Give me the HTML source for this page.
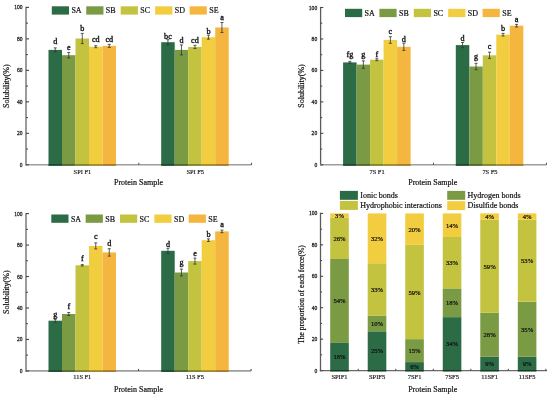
<!DOCTYPE html>
<html><head><meta charset="utf-8"><title>Solubility charts</title>
<style>
html,body{margin:0;padding:0;background:#fff;}
body{width:550px;height:396px;overflow:hidden;}
svg{display:block;font-family:"Liberation Serif", serif;will-change:transform;}
text{stroke:#111;stroke-width:0.2px;}
.tk{stroke:#1a1a1a;stroke-width:0.22px;fill:#1a1a1a;}
.pc{stroke:#111;stroke-width:0.22px;}
.lt{stroke:#111;stroke-width:0.35px;}
.ct{stroke:#1a1a1a;stroke-width:0.18px;fill:#1a1a1a;}
</style></head>
<body>
<svg width="550" height="396" viewBox="0 0 550 396">
<rect x="0" y="0" width="550" height="396" fill="#ffffff"/>
<line x1="26.00" y1="6.80" x2="26.00" y2="165.60" stroke="#9b9b9b" stroke-width="2.0"/>
<line x1="25.00" y1="164.80" x2="251.60" y2="164.80" stroke="#9e9e9e" stroke-width="1.6"/>
<rect x="48.50" y="49.90" width="13.50" height="115.70" fill="#2b6b45"/>
<rect x="48.50" y="164.30" width="13.50" height="1.30" fill="#173a25"/>
<rect x="62.00" y="55.20" width="13.50" height="110.40" fill="#7a9a44"/>
<rect x="62.00" y="164.30" width="13.50" height="1.30" fill="#435425"/>
<rect x="75.50" y="38.50" width="13.50" height="127.10" fill="#c3c340"/>
<rect x="75.50" y="164.30" width="13.50" height="1.30" fill="#6b6b23"/>
<rect x="89.00" y="46.70" width="13.50" height="118.90" fill="#f2cd3f"/>
<rect x="89.00" y="164.30" width="13.50" height="1.30" fill="#857022"/>
<rect x="102.50" y="45.90" width="13.50" height="119.70" fill="#f4b63e"/>
<rect x="102.50" y="164.30" width="13.50" height="1.30" fill="#866422"/>
<rect x="161.20" y="42.20" width="13.50" height="123.40" fill="#2b6b45"/>
<rect x="161.20" y="164.30" width="13.50" height="1.30" fill="#173a25"/>
<rect x="174.70" y="49.90" width="13.50" height="115.70" fill="#7a9a44"/>
<rect x="174.70" y="164.30" width="13.50" height="1.30" fill="#435425"/>
<rect x="188.20" y="46.90" width="13.50" height="118.70" fill="#c3c340"/>
<rect x="188.20" y="164.30" width="13.50" height="1.30" fill="#6b6b23"/>
<rect x="201.70" y="37.20" width="13.50" height="128.40" fill="#f2cd3f"/>
<rect x="201.70" y="164.30" width="13.50" height="1.30" fill="#857022"/>
<rect x="215.20" y="27.50" width="13.50" height="138.10" fill="#f4b63e"/>
<rect x="215.20" y="164.30" width="13.50" height="1.30" fill="#866422"/>
<line x1="55.25" y1="47.90" x2="55.25" y2="51.90" stroke="#333" stroke-width="0.8"/>
<line x1="53.75" y1="47.90" x2="56.75" y2="47.90" stroke="#333" stroke-width="0.8"/>
<line x1="53.75" y1="51.90" x2="56.75" y2="51.90" stroke="#333" stroke-width="0.8"/>
<text x="0" y="0" font-size="8.2" text-anchor="middle" transform="translate(55.25 44.40) scale(1 1.06)" fill="#111111" class="lt">d</text>
<line x1="68.75" y1="52.50" x2="68.75" y2="57.90" stroke="#333" stroke-width="0.8"/>
<line x1="67.25" y1="52.50" x2="70.25" y2="52.50" stroke="#333" stroke-width="0.8"/>
<line x1="67.25" y1="57.90" x2="70.25" y2="57.90" stroke="#333" stroke-width="0.8"/>
<text x="0" y="0" font-size="8.2" text-anchor="middle" transform="translate(68.75 49.50) scale(1 1.06)" fill="#111111" class="lt">e</text>
<line x1="82.25" y1="33.40" x2="82.25" y2="43.60" stroke="#333" stroke-width="0.8"/>
<line x1="80.75" y1="33.40" x2="83.75" y2="33.40" stroke="#333" stroke-width="0.8"/>
<line x1="80.75" y1="43.60" x2="83.75" y2="43.60" stroke="#333" stroke-width="0.8"/>
<text x="0" y="0" font-size="8.2" text-anchor="middle" transform="translate(82.25 31.20) scale(1 1.06)" fill="#111111" class="lt">b</text>
<line x1="95.75" y1="45.70" x2="95.75" y2="47.70" stroke="#333" stroke-width="0.8"/>
<line x1="94.25" y1="45.70" x2="97.25" y2="45.70" stroke="#333" stroke-width="0.8"/>
<line x1="94.25" y1="47.70" x2="97.25" y2="47.70" stroke="#333" stroke-width="0.8"/>
<text x="0" y="0" font-size="8.2" text-anchor="middle" transform="translate(95.75 42.30) scale(1 1.06)" fill="#111111" class="lt">cd</text>
<line x1="109.25" y1="44.40" x2="109.25" y2="47.40" stroke="#333" stroke-width="0.8"/>
<line x1="107.75" y1="44.40" x2="110.75" y2="44.40" stroke="#333" stroke-width="0.8"/>
<line x1="107.75" y1="47.40" x2="110.75" y2="47.40" stroke="#333" stroke-width="0.8"/>
<text x="0" y="0" font-size="8.2" text-anchor="middle" transform="translate(109.25 42.30) scale(1 1.06)" fill="#111111" class="lt">cd</text>
<line x1="167.95" y1="39.70" x2="167.95" y2="44.70" stroke="#333" stroke-width="0.8"/>
<line x1="166.45" y1="39.70" x2="169.45" y2="39.70" stroke="#333" stroke-width="0.8"/>
<line x1="166.45" y1="44.70" x2="169.45" y2="44.70" stroke="#333" stroke-width="0.8"/>
<text x="0" y="0" font-size="8.2" text-anchor="middle" transform="translate(167.95 38.60) scale(1 1.06)" fill="#111111" class="lt">bc</text>
<line x1="181.45" y1="44.90" x2="181.45" y2="54.90" stroke="#333" stroke-width="0.8"/>
<line x1="179.95" y1="44.90" x2="182.95" y2="44.90" stroke="#333" stroke-width="0.8"/>
<line x1="179.95" y1="54.90" x2="182.95" y2="54.90" stroke="#333" stroke-width="0.8"/>
<text x="0" y="0" font-size="8.2" text-anchor="middle" transform="translate(181.45 42.70) scale(1 1.06)" fill="#111111" class="lt">d</text>
<line x1="194.95" y1="45.30" x2="194.95" y2="48.50" stroke="#333" stroke-width="0.8"/>
<line x1="193.45" y1="45.30" x2="196.45" y2="45.30" stroke="#333" stroke-width="0.8"/>
<line x1="193.45" y1="48.50" x2="196.45" y2="48.50" stroke="#333" stroke-width="0.8"/>
<text x="0" y="0" font-size="8.2" text-anchor="middle" transform="translate(194.95 42.70) scale(1 1.06)" fill="#111111" class="lt">cd</text>
<line x1="208.45" y1="35.20" x2="208.45" y2="39.20" stroke="#333" stroke-width="0.8"/>
<line x1="206.95" y1="35.20" x2="209.95" y2="35.20" stroke="#333" stroke-width="0.8"/>
<line x1="206.95" y1="39.20" x2="209.95" y2="39.20" stroke="#333" stroke-width="0.8"/>
<text x="0" y="0" font-size="8.2" text-anchor="middle" transform="translate(208.45 33.90) scale(1 1.06)" fill="#111111" class="lt">b</text>
<line x1="221.95" y1="22.50" x2="221.95" y2="32.50" stroke="#333" stroke-width="0.8"/>
<line x1="220.45" y1="22.50" x2="223.45" y2="22.50" stroke="#333" stroke-width="0.8"/>
<line x1="220.45" y1="32.50" x2="223.45" y2="32.50" stroke="#333" stroke-width="0.8"/>
<text x="0" y="0" font-size="8.2" text-anchor="middle" transform="translate(221.95 19.90) scale(1 1.06)" fill="#111111" class="lt">a</text>
<line x1="26.00" y1="164.80" x2="29.00" y2="164.80" stroke="#444" stroke-width="1.1"/>
<text x="0" y="0" font-size="5.6" text-anchor="end" transform="translate(22.60 166.80) scale(1 1.25)" fill="#111111" class="tk">0</text>
<line x1="26.00" y1="149.06" x2="28.00" y2="149.06" stroke="#444" stroke-width="1.0"/>
<line x1="26.00" y1="133.32" x2="29.00" y2="133.32" stroke="#444" stroke-width="1.1"/>
<text x="0" y="0" font-size="5.6" text-anchor="end" transform="translate(22.60 135.32) scale(1 1.25)" fill="#111111" class="tk">20</text>
<line x1="26.00" y1="117.58" x2="28.00" y2="117.58" stroke="#444" stroke-width="1.0"/>
<line x1="26.00" y1="101.84" x2="29.00" y2="101.84" stroke="#444" stroke-width="1.1"/>
<text x="0" y="0" font-size="5.6" text-anchor="end" transform="translate(22.60 103.84) scale(1 1.25)" fill="#111111" class="tk">40</text>
<line x1="26.00" y1="86.10" x2="28.00" y2="86.10" stroke="#444" stroke-width="1.0"/>
<line x1="26.00" y1="70.36" x2="29.00" y2="70.36" stroke="#444" stroke-width="1.1"/>
<text x="0" y="0" font-size="5.6" text-anchor="end" transform="translate(22.60 72.36) scale(1 1.25)" fill="#111111" class="tk">60</text>
<line x1="26.00" y1="54.62" x2="28.00" y2="54.62" stroke="#444" stroke-width="1.0"/>
<line x1="26.00" y1="38.88" x2="29.00" y2="38.88" stroke="#444" stroke-width="1.1"/>
<text x="0" y="0" font-size="5.6" text-anchor="end" transform="translate(22.60 40.88) scale(1 1.25)" fill="#111111" class="tk">80</text>
<line x1="26.00" y1="23.14" x2="28.00" y2="23.14" stroke="#444" stroke-width="1.0"/>
<line x1="26.00" y1="7.40" x2="29.00" y2="7.40" stroke="#444" stroke-width="1.1"/>
<text x="0" y="0" font-size="5.6" text-anchor="end" transform="translate(22.60 9.40) scale(1 1.25)" fill="#111111" class="tk">100</text>
<line x1="138.80" y1="164.80" x2="138.80" y2="162.80" stroke="#444" stroke-width="1.0"/>
<line x1="251.60" y1="164.80" x2="251.60" y2="162.80" stroke="#444" stroke-width="1.0"/>
<text x="0" y="0" font-size="6.4" text-anchor="middle" transform="translate(82.40 173.60) scale(1 1.08)" fill="#111111" class="ct">SPI F1</text>
<text x="0" y="0" font-size="6.4" text-anchor="middle" transform="translate(195.20 173.60) scale(1 1.08)" fill="#111111" class="ct">SPI F5</text>
<text x="138.50" y="185.30" font-size="8" text-anchor="middle" fill="#111111">Protein Sample</text>
<text x="9.40" y="86.20" font-size="8" text-anchor="middle" transform="rotate(-90 9.40 86.20)" fill="#111111">Solubility(%)</text>
<rect x="51.80" y="6.30" width="17.20" height="8.30" fill="#2b6b45"/>
<text x="71.40" y="13.30" font-size="8" text-anchor="start" fill="#111111">SA</text>
<rect x="86.25" y="6.30" width="17.20" height="8.30" fill="#7a9a44"/>
<text x="105.85" y="13.30" font-size="8" text-anchor="start" fill="#111111">SB</text>
<rect x="120.70" y="6.30" width="17.20" height="8.30" fill="#c3c340"/>
<text x="140.30" y="13.30" font-size="8" text-anchor="start" fill="#111111">SC</text>
<rect x="155.15" y="6.30" width="17.20" height="8.30" fill="#f2cd3f"/>
<text x="174.75" y="13.30" font-size="8" text-anchor="start" fill="#111111">SD</text>
<rect x="189.60" y="6.30" width="17.20" height="8.30" fill="#f4b63e"/>
<text x="209.20" y="13.30" font-size="8" text-anchor="start" fill="#111111">SE</text>
<line x1="320.60" y1="6.90" x2="320.60" y2="165.60" stroke="#5c5c5c" stroke-width="1.3"/>
<line x1="319.95" y1="164.80" x2="546.40" y2="164.80" stroke="#9e9e9e" stroke-width="1.6"/>
<rect x="343.10" y="62.40" width="13.50" height="103.20" fill="#2b6b45"/>
<rect x="343.10" y="164.30" width="13.50" height="1.30" fill="#173a25"/>
<rect x="356.60" y="64.60" width="13.50" height="101.00" fill="#7a9a44"/>
<rect x="356.60" y="164.30" width="13.50" height="1.30" fill="#435425"/>
<rect x="370.10" y="59.70" width="13.50" height="105.90" fill="#c3c340"/>
<rect x="370.10" y="164.30" width="13.50" height="1.30" fill="#6b6b23"/>
<rect x="383.60" y="40.00" width="13.50" height="125.60" fill="#f2cd3f"/>
<rect x="383.60" y="164.30" width="13.50" height="1.30" fill="#857022"/>
<rect x="397.10" y="46.80" width="13.50" height="118.80" fill="#f4b63e"/>
<rect x="397.10" y="164.30" width="13.50" height="1.30" fill="#866422"/>
<rect x="455.80" y="45.10" width="13.50" height="120.50" fill="#2b6b45"/>
<rect x="455.80" y="164.30" width="13.50" height="1.30" fill="#173a25"/>
<rect x="469.30" y="66.50" width="13.50" height="99.10" fill="#7a9a44"/>
<rect x="469.30" y="164.30" width="13.50" height="1.30" fill="#435425"/>
<rect x="482.80" y="55.30" width="13.50" height="110.30" fill="#c3c340"/>
<rect x="482.80" y="164.30" width="13.50" height="1.30" fill="#6b6b23"/>
<rect x="496.30" y="34.70" width="13.50" height="130.90" fill="#f2cd3f"/>
<rect x="496.30" y="164.30" width="13.50" height="1.30" fill="#857022"/>
<rect x="509.80" y="25.70" width="13.50" height="139.90" fill="#f4b63e"/>
<rect x="509.80" y="164.30" width="13.50" height="1.30" fill="#866422"/>
<line x1="349.85" y1="61.40" x2="349.85" y2="63.40" stroke="#333" stroke-width="0.8"/>
<line x1="348.35" y1="61.40" x2="351.35" y2="61.40" stroke="#333" stroke-width="0.8"/>
<line x1="348.35" y1="63.40" x2="351.35" y2="63.40" stroke="#333" stroke-width="0.8"/>
<text x="0" y="0" font-size="8.2" text-anchor="middle" transform="translate(349.85 56.70) scale(1 1.06)" fill="#111111" class="lt">fg</text>
<line x1="363.35" y1="60.90" x2="363.35" y2="68.30" stroke="#333" stroke-width="0.8"/>
<line x1="361.85" y1="60.90" x2="364.85" y2="60.90" stroke="#333" stroke-width="0.8"/>
<line x1="361.85" y1="68.30" x2="364.85" y2="68.30" stroke="#333" stroke-width="0.8"/>
<text x="0" y="0" font-size="8.2" text-anchor="middle" transform="translate(363.35 56.70) scale(1 1.06)" fill="#111111" class="lt">g</text>
<line x1="376.85" y1="58.70" x2="376.85" y2="60.70" stroke="#333" stroke-width="0.8"/>
<line x1="375.35" y1="58.70" x2="378.35" y2="58.70" stroke="#333" stroke-width="0.8"/>
<line x1="375.35" y1="60.70" x2="378.35" y2="60.70" stroke="#333" stroke-width="0.8"/>
<text x="0" y="0" font-size="8.2" text-anchor="middle" transform="translate(376.85 57.30) scale(1 1.06)" fill="#111111" class="lt">f</text>
<line x1="390.35" y1="36.70" x2="390.35" y2="43.30" stroke="#333" stroke-width="0.8"/>
<line x1="388.85" y1="36.70" x2="391.85" y2="36.70" stroke="#333" stroke-width="0.8"/>
<line x1="388.85" y1="43.30" x2="391.85" y2="43.30" stroke="#333" stroke-width="0.8"/>
<text x="0" y="0" font-size="8.2" text-anchor="middle" transform="translate(390.35 34.00) scale(1 1.06)" fill="#111111" class="lt">c</text>
<line x1="403.85" y1="43.20" x2="403.85" y2="50.40" stroke="#333" stroke-width="0.8"/>
<line x1="402.35" y1="43.20" x2="405.35" y2="43.20" stroke="#333" stroke-width="0.8"/>
<line x1="402.35" y1="50.40" x2="405.35" y2="50.40" stroke="#333" stroke-width="0.8"/>
<text x="0" y="0" font-size="8.2" text-anchor="middle" transform="translate(403.85 41.80) scale(1 1.06)" fill="#111111" class="lt">d</text>
<line x1="462.55" y1="42.50" x2="462.55" y2="47.70" stroke="#333" stroke-width="0.8"/>
<line x1="461.05" y1="42.50" x2="464.05" y2="42.50" stroke="#333" stroke-width="0.8"/>
<line x1="461.05" y1="47.70" x2="464.05" y2="47.70" stroke="#333" stroke-width="0.8"/>
<text x="0" y="0" font-size="8.2" text-anchor="middle" transform="translate(462.55 40.60) scale(1 1.06)" fill="#111111" class="lt">d</text>
<line x1="476.05" y1="63.30" x2="476.05" y2="69.70" stroke="#333" stroke-width="0.8"/>
<line x1="474.55" y1="63.30" x2="477.55" y2="63.30" stroke="#333" stroke-width="0.8"/>
<line x1="474.55" y1="69.70" x2="477.55" y2="69.70" stroke="#333" stroke-width="0.8"/>
<text x="0" y="0" font-size="8.2" text-anchor="middle" transform="translate(476.05 58.60) scale(1 1.06)" fill="#111111" class="lt">g</text>
<line x1="489.55" y1="52.20" x2="489.55" y2="58.40" stroke="#333" stroke-width="0.8"/>
<line x1="488.05" y1="52.20" x2="491.05" y2="52.20" stroke="#333" stroke-width="0.8"/>
<line x1="488.05" y1="58.40" x2="491.05" y2="58.40" stroke="#333" stroke-width="0.8"/>
<text x="0" y="0" font-size="8.2" text-anchor="middle" transform="translate(489.55 49.40) scale(1 1.06)" fill="#111111" class="lt">c</text>
<line x1="503.05" y1="33.40" x2="503.05" y2="36.00" stroke="#333" stroke-width="0.8"/>
<line x1="501.55" y1="33.40" x2="504.55" y2="33.40" stroke="#333" stroke-width="0.8"/>
<line x1="501.55" y1="36.00" x2="504.55" y2="36.00" stroke="#333" stroke-width="0.8"/>
<text x="0" y="0" font-size="8.2" text-anchor="middle" transform="translate(503.05 31.10) scale(1 1.06)" fill="#111111" class="lt">b</text>
<line x1="516.55" y1="24.40" x2="516.55" y2="27.00" stroke="#333" stroke-width="0.8"/>
<line x1="515.05" y1="24.40" x2="518.05" y2="24.40" stroke="#333" stroke-width="0.8"/>
<line x1="515.05" y1="27.00" x2="518.05" y2="27.00" stroke="#333" stroke-width="0.8"/>
<text x="0" y="0" font-size="8.2" text-anchor="middle" transform="translate(516.55 21.60) scale(1 1.06)" fill="#111111" class="lt">a</text>
<line x1="320.60" y1="164.80" x2="323.25" y2="164.80" stroke="#444" stroke-width="1.1"/>
<text x="0" y="0" font-size="5.6" text-anchor="end" transform="translate(317.20 166.80) scale(1 1.25)" fill="#111111" class="tk">0</text>
<line x1="320.60" y1="149.07" x2="322.25" y2="149.07" stroke="#444" stroke-width="1.0"/>
<line x1="320.60" y1="133.34" x2="323.25" y2="133.34" stroke="#444" stroke-width="1.1"/>
<text x="0" y="0" font-size="5.6" text-anchor="end" transform="translate(317.20 135.34) scale(1 1.25)" fill="#111111" class="tk">20</text>
<line x1="320.60" y1="117.61" x2="322.25" y2="117.61" stroke="#444" stroke-width="1.0"/>
<line x1="320.60" y1="101.88" x2="323.25" y2="101.88" stroke="#444" stroke-width="1.1"/>
<text x="0" y="0" font-size="5.6" text-anchor="end" transform="translate(317.20 103.88) scale(1 1.25)" fill="#111111" class="tk">40</text>
<line x1="320.60" y1="86.15" x2="322.25" y2="86.15" stroke="#444" stroke-width="1.0"/>
<line x1="320.60" y1="70.42" x2="323.25" y2="70.42" stroke="#444" stroke-width="1.1"/>
<text x="0" y="0" font-size="5.6" text-anchor="end" transform="translate(317.20 72.42) scale(1 1.25)" fill="#111111" class="tk">60</text>
<line x1="320.60" y1="54.69" x2="322.25" y2="54.69" stroke="#444" stroke-width="1.0"/>
<line x1="320.60" y1="38.96" x2="323.25" y2="38.96" stroke="#444" stroke-width="1.1"/>
<text x="0" y="0" font-size="5.6" text-anchor="end" transform="translate(317.20 40.96) scale(1 1.25)" fill="#111111" class="tk">80</text>
<line x1="320.60" y1="23.23" x2="322.25" y2="23.23" stroke="#444" stroke-width="1.0"/>
<line x1="320.60" y1="7.50" x2="323.25" y2="7.50" stroke="#444" stroke-width="1.1"/>
<text x="0" y="0" font-size="5.6" text-anchor="end" transform="translate(317.20 9.50) scale(1 1.25)" fill="#111111" class="tk">100</text>
<line x1="433.50" y1="164.80" x2="433.50" y2="162.80" stroke="#444" stroke-width="1.0"/>
<line x1="546.40" y1="164.80" x2="546.40" y2="162.80" stroke="#444" stroke-width="1.0"/>
<text x="0" y="0" font-size="6.4" text-anchor="middle" transform="translate(377.05 173.60) scale(1 1.08)" fill="#111111" class="ct">7S F1</text>
<text x="0" y="0" font-size="6.4" text-anchor="middle" transform="translate(489.95 173.60) scale(1 1.08)" fill="#111111" class="ct">7S F5</text>
<text x="432.80" y="185.30" font-size="8" text-anchor="middle" fill="#111111">Protein Sample</text>
<text x="304.40" y="86.00" font-size="8" text-anchor="middle" transform="rotate(-90 304.40 86.00)" fill="#111111">Solubility(%)</text>
<rect x="345.00" y="8.80" width="17.20" height="8.30" fill="#2b6b45"/>
<text x="364.60" y="15.80" font-size="8" text-anchor="start" fill="#111111">SA</text>
<rect x="379.40" y="8.80" width="17.20" height="8.30" fill="#7a9a44"/>
<text x="399.00" y="15.80" font-size="8" text-anchor="start" fill="#111111">SB</text>
<rect x="413.80" y="8.80" width="17.20" height="8.30" fill="#c3c340"/>
<text x="433.40" y="15.80" font-size="8" text-anchor="start" fill="#111111">SC</text>
<rect x="448.20" y="8.80" width="17.20" height="8.30" fill="#f2cd3f"/>
<text x="467.80" y="15.80" font-size="8" text-anchor="start" fill="#111111">SD</text>
<rect x="482.60" y="8.80" width="17.20" height="8.30" fill="#f4b63e"/>
<text x="502.20" y="15.80" font-size="8" text-anchor="start" fill="#111111">SE</text>
<line x1="26.00" y1="213.00" x2="26.00" y2="371.70" stroke="#9b9b9b" stroke-width="2.0"/>
<line x1="25.00" y1="370.90" x2="251.10" y2="370.90" stroke="#9e9e9e" stroke-width="1.6"/>
<rect x="48.50" y="320.70" width="13.50" height="51.00" fill="#2b6b45"/>
<rect x="48.50" y="370.40" width="13.50" height="1.30" fill="#173a25"/>
<rect x="62.00" y="314.00" width="13.50" height="57.70" fill="#7a9a44"/>
<rect x="62.00" y="370.40" width="13.50" height="1.30" fill="#435425"/>
<rect x="75.50" y="265.30" width="13.50" height="106.40" fill="#c3c340"/>
<rect x="75.50" y="370.40" width="13.50" height="1.30" fill="#6b6b23"/>
<rect x="89.00" y="245.90" width="13.50" height="125.80" fill="#f2cd3f"/>
<rect x="89.00" y="370.40" width="13.50" height="1.30" fill="#857022"/>
<rect x="102.50" y="252.40" width="13.50" height="119.30" fill="#f4b63e"/>
<rect x="102.50" y="370.40" width="13.50" height="1.30" fill="#866422"/>
<rect x="161.20" y="250.80" width="13.50" height="120.90" fill="#2b6b45"/>
<rect x="161.20" y="370.40" width="13.50" height="1.30" fill="#173a25"/>
<rect x="174.70" y="272.50" width="13.50" height="99.20" fill="#7a9a44"/>
<rect x="174.70" y="370.40" width="13.50" height="1.30" fill="#435425"/>
<rect x="188.20" y="261.10" width="13.50" height="110.60" fill="#c3c340"/>
<rect x="188.20" y="370.40" width="13.50" height="1.30" fill="#6b6b23"/>
<rect x="201.70" y="240.20" width="13.50" height="131.50" fill="#f2cd3f"/>
<rect x="201.70" y="370.40" width="13.50" height="1.30" fill="#857022"/>
<rect x="215.20" y="231.40" width="13.50" height="140.30" fill="#f4b63e"/>
<rect x="215.20" y="370.40" width="13.50" height="1.30" fill="#866422"/>
<line x1="55.25" y1="319.20" x2="55.25" y2="322.20" stroke="#333" stroke-width="0.8"/>
<line x1="53.75" y1="319.20" x2="56.75" y2="319.20" stroke="#333" stroke-width="0.8"/>
<line x1="53.75" y1="322.20" x2="56.75" y2="322.20" stroke="#333" stroke-width="0.8"/>
<text x="0" y="0" font-size="8.2" text-anchor="middle" transform="translate(55.25 317.30) scale(1 1.06)" fill="#111111" class="lt">g</text>
<line x1="68.75" y1="312.50" x2="68.75" y2="315.50" stroke="#333" stroke-width="0.8"/>
<line x1="67.25" y1="312.50" x2="70.25" y2="312.50" stroke="#333" stroke-width="0.8"/>
<line x1="67.25" y1="315.50" x2="70.25" y2="315.50" stroke="#333" stroke-width="0.8"/>
<text x="0" y="0" font-size="8.2" text-anchor="middle" transform="translate(68.75 308.60) scale(1 1.06)" fill="#111111" class="lt">f</text>
<line x1="82.25" y1="264.60" x2="82.25" y2="266.00" stroke="#333" stroke-width="0.8"/>
<line x1="80.75" y1="264.60" x2="83.75" y2="264.60" stroke="#333" stroke-width="0.8"/>
<line x1="80.75" y1="266.00" x2="83.75" y2="266.00" stroke="#333" stroke-width="0.8"/>
<text x="0" y="0" font-size="8.2" text-anchor="middle" transform="translate(82.25 261.30) scale(1 1.06)" fill="#111111" class="lt">f</text>
<line x1="95.75" y1="242.90" x2="95.75" y2="248.90" stroke="#333" stroke-width="0.8"/>
<line x1="94.25" y1="242.90" x2="97.25" y2="242.90" stroke="#333" stroke-width="0.8"/>
<line x1="94.25" y1="248.90" x2="97.25" y2="248.90" stroke="#333" stroke-width="0.8"/>
<text x="0" y="0" font-size="8.2" text-anchor="middle" transform="translate(95.75 238.80) scale(1 1.06)" fill="#111111" class="lt">c</text>
<line x1="109.25" y1="248.70" x2="109.25" y2="256.10" stroke="#333" stroke-width="0.8"/>
<line x1="107.75" y1="248.70" x2="110.75" y2="248.70" stroke="#333" stroke-width="0.8"/>
<line x1="107.75" y1="256.10" x2="110.75" y2="256.10" stroke="#333" stroke-width="0.8"/>
<text x="0" y="0" font-size="8.2" text-anchor="middle" transform="translate(109.25 245.50) scale(1 1.06)" fill="#111111" class="lt">d</text>
<line x1="167.95" y1="248.30" x2="167.95" y2="253.30" stroke="#333" stroke-width="0.8"/>
<line x1="166.45" y1="248.30" x2="169.45" y2="248.30" stroke="#333" stroke-width="0.8"/>
<line x1="166.45" y1="253.30" x2="169.45" y2="253.30" stroke="#333" stroke-width="0.8"/>
<text x="0" y="0" font-size="8.2" text-anchor="middle" transform="translate(167.95 246.50) scale(1 1.06)" fill="#111111" class="lt">d</text>
<line x1="181.45" y1="269.10" x2="181.45" y2="275.90" stroke="#333" stroke-width="0.8"/>
<line x1="179.95" y1="269.10" x2="182.95" y2="269.10" stroke="#333" stroke-width="0.8"/>
<line x1="179.95" y1="275.90" x2="182.95" y2="275.90" stroke="#333" stroke-width="0.8"/>
<text x="0" y="0" font-size="8.2" text-anchor="middle" transform="translate(181.45 265.20) scale(1 1.06)" fill="#111111" class="lt">g</text>
<line x1="194.95" y1="258.10" x2="194.95" y2="264.10" stroke="#333" stroke-width="0.8"/>
<line x1="193.45" y1="258.10" x2="196.45" y2="258.10" stroke="#333" stroke-width="0.8"/>
<line x1="193.45" y1="264.10" x2="196.45" y2="264.10" stroke="#333" stroke-width="0.8"/>
<text x="0" y="0" font-size="8.2" text-anchor="middle" transform="translate(194.95 255.60) scale(1 1.06)" fill="#111111" class="lt">e</text>
<line x1="208.45" y1="238.90" x2="208.45" y2="241.50" stroke="#333" stroke-width="0.8"/>
<line x1="206.95" y1="238.90" x2="209.95" y2="238.90" stroke="#333" stroke-width="0.8"/>
<line x1="206.95" y1="241.50" x2="209.95" y2="241.50" stroke="#333" stroke-width="0.8"/>
<text x="0" y="0" font-size="8.2" text-anchor="middle" transform="translate(208.45 237.40) scale(1 1.06)" fill="#111111" class="lt">b</text>
<line x1="221.95" y1="230.10" x2="221.95" y2="232.70" stroke="#333" stroke-width="0.8"/>
<line x1="220.45" y1="230.10" x2="223.45" y2="230.10" stroke="#333" stroke-width="0.8"/>
<line x1="220.45" y1="232.70" x2="223.45" y2="232.70" stroke="#333" stroke-width="0.8"/>
<text x="0" y="0" font-size="8.2" text-anchor="middle" transform="translate(221.95 227.30) scale(1 1.06)" fill="#111111" class="lt">a</text>
<line x1="26.00" y1="370.90" x2="29.00" y2="370.90" stroke="#444" stroke-width="1.1"/>
<text x="0" y="0" font-size="5.6" text-anchor="end" transform="translate(22.60 372.90) scale(1 1.25)" fill="#111111" class="tk">0</text>
<line x1="26.00" y1="355.17" x2="28.00" y2="355.17" stroke="#444" stroke-width="1.0"/>
<line x1="26.00" y1="339.44" x2="29.00" y2="339.44" stroke="#444" stroke-width="1.1"/>
<text x="0" y="0" font-size="5.6" text-anchor="end" transform="translate(22.60 341.44) scale(1 1.25)" fill="#111111" class="tk">20</text>
<line x1="26.00" y1="323.71" x2="28.00" y2="323.71" stroke="#444" stroke-width="1.0"/>
<line x1="26.00" y1="307.98" x2="29.00" y2="307.98" stroke="#444" stroke-width="1.1"/>
<text x="0" y="0" font-size="5.6" text-anchor="end" transform="translate(22.60 309.98) scale(1 1.25)" fill="#111111" class="tk">40</text>
<line x1="26.00" y1="292.25" x2="28.00" y2="292.25" stroke="#444" stroke-width="1.0"/>
<line x1="26.00" y1="276.52" x2="29.00" y2="276.52" stroke="#444" stroke-width="1.1"/>
<text x="0" y="0" font-size="5.6" text-anchor="end" transform="translate(22.60 278.52) scale(1 1.25)" fill="#111111" class="tk">60</text>
<line x1="26.00" y1="260.79" x2="28.00" y2="260.79" stroke="#444" stroke-width="1.0"/>
<line x1="26.00" y1="245.06" x2="29.00" y2="245.06" stroke="#444" stroke-width="1.1"/>
<text x="0" y="0" font-size="5.6" text-anchor="end" transform="translate(22.60 247.06) scale(1 1.25)" fill="#111111" class="tk">80</text>
<line x1="26.00" y1="229.33" x2="28.00" y2="229.33" stroke="#444" stroke-width="1.0"/>
<line x1="26.00" y1="213.60" x2="29.00" y2="213.60" stroke="#444" stroke-width="1.1"/>
<text x="0" y="0" font-size="5.6" text-anchor="end" transform="translate(22.60 215.60) scale(1 1.25)" fill="#111111" class="tk">100</text>
<line x1="138.55" y1="370.90" x2="138.55" y2="368.90" stroke="#444" stroke-width="1.0"/>
<line x1="251.10" y1="370.90" x2="251.10" y2="368.90" stroke="#444" stroke-width="1.0"/>
<text x="0" y="0" font-size="6.4" text-anchor="middle" transform="translate(82.28 379.00) scale(1 1.08)" fill="#111111" class="ct">11S F1</text>
<text x="0" y="0" font-size="6.4" text-anchor="middle" transform="translate(194.82 379.00) scale(1 1.08)" fill="#111111" class="ct">11S F5</text>
<text x="138.50" y="391.60" font-size="8" text-anchor="middle" fill="#111111">Protein Sample</text>
<text x="9.40" y="292.20" font-size="8" text-anchor="middle" transform="rotate(-90 9.40 292.20)" fill="#111111">Solubility(%)</text>
<rect x="51.30" y="214.50" width="17.20" height="8.30" fill="#2b6b45"/>
<text x="70.90" y="221.50" font-size="8" text-anchor="start" fill="#111111">SA</text>
<rect x="85.65" y="214.50" width="17.20" height="8.30" fill="#7a9a44"/>
<text x="105.25" y="221.50" font-size="8" text-anchor="start" fill="#111111">SB</text>
<rect x="120.00" y="214.50" width="17.20" height="8.30" fill="#c3c340"/>
<text x="139.60" y="221.50" font-size="8" text-anchor="start" fill="#111111">SC</text>
<rect x="154.35" y="214.50" width="17.20" height="8.30" fill="#f2cd3f"/>
<text x="173.95" y="221.50" font-size="8" text-anchor="start" fill="#111111">SD</text>
<rect x="188.70" y="214.50" width="17.20" height="8.30" fill="#f4b63e"/>
<text x="208.30" y="221.50" font-size="8" text-anchor="start" fill="#111111">SE</text>
<line x1="320.50" y1="212.80" x2="320.50" y2="371.30" stroke="#5c5c5c" stroke-width="1.3"/>
<line x1="319.85" y1="370.60" x2="547.00" y2="370.60" stroke="#6a6a6a" stroke-width="1.4"/>
<rect x="330.20" y="342.93" width="18.60" height="28.37" fill="#2b6b45"/>
<rect x="330.20" y="258.99" width="18.60" height="83.94" fill="#7a9a44"/>
<rect x="330.20" y="217.64" width="18.60" height="41.34" fill="#c3c340"/>
<rect x="330.20" y="213.40" width="18.60" height="4.24" fill="#f2cd3f"/>
<rect x="330.20" y="370.00" width="18.60" height="1.30" fill="#173a25"/>
<text x="339.50" y="359.27" font-size="6.6" text-anchor="middle" fill="#111111" class="pc">18%</text>
<text x="339.50" y="303.46" font-size="6.6" text-anchor="middle" fill="#111111" class="pc">54%</text>
<text x="339.50" y="240.82" font-size="6.6" text-anchor="middle" fill="#111111" class="pc">26%</text>
<text x="339.50" y="218.02" font-size="6.6" text-anchor="middle" fill="#111111" class="pc">3%</text>
<text x="0" y="0" font-size="6.5" text-anchor="middle" transform="translate(339.50 379.00) scale(1 1.08)" fill="#111111" class="ct">SPIF1</text>
<rect x="367.72" y="331.30" width="18.60" height="40.00" fill="#2b6b45"/>
<rect x="367.72" y="315.58" width="18.60" height="15.72" fill="#7a9a44"/>
<rect x="367.72" y="263.23" width="18.60" height="52.35" fill="#c3c340"/>
<rect x="367.72" y="213.40" width="18.60" height="49.83" fill="#f2cd3f"/>
<rect x="367.72" y="370.00" width="18.60" height="1.30" fill="#173a25"/>
<text x="377.02" y="353.45" font-size="6.6" text-anchor="middle" fill="#111111" class="pc">25%</text>
<text x="377.02" y="325.94" font-size="6.6" text-anchor="middle" fill="#111111" class="pc">10%</text>
<text x="377.02" y="291.91" font-size="6.6" text-anchor="middle" fill="#111111" class="pc">33%</text>
<text x="377.02" y="240.82" font-size="6.6" text-anchor="middle" fill="#111111" class="pc">32%</text>
<text x="0" y="0" font-size="6.5" text-anchor="middle" transform="translate(377.02 379.00) scale(1 1.08)" fill="#111111" class="ct">SPIF5</text>
<rect x="405.24" y="362.11" width="18.60" height="9.19" fill="#2b6b45"/>
<rect x="405.24" y="339.16" width="18.60" height="22.95" fill="#7a9a44"/>
<rect x="405.24" y="244.84" width="18.60" height="94.32" fill="#c3c340"/>
<rect x="405.24" y="213.40" width="18.60" height="31.44" fill="#f2cd3f"/>
<rect x="405.24" y="370.00" width="18.60" height="1.30" fill="#173a25"/>
<text x="414.54" y="368.86" font-size="6.6" text-anchor="middle" fill="#111111" class="pc">6%</text>
<text x="414.54" y="353.14" font-size="6.6" text-anchor="middle" fill="#111111" class="pc">15%</text>
<text x="414.54" y="294.50" font-size="6.6" text-anchor="middle" fill="#111111" class="pc">59%</text>
<text x="414.54" y="231.62" font-size="6.6" text-anchor="middle" fill="#111111" class="pc">20%</text>
<text x="0" y="0" font-size="6.5" text-anchor="middle" transform="translate(414.54 379.00) scale(1 1.08)" fill="#111111" class="ct">7SF1</text>
<rect x="442.76" y="317.15" width="18.60" height="54.15" fill="#2b6b45"/>
<rect x="442.76" y="288.38" width="18.60" height="28.77" fill="#7a9a44"/>
<rect x="442.76" y="236.98" width="18.60" height="51.40" fill="#c3c340"/>
<rect x="442.76" y="213.40" width="18.60" height="23.58" fill="#f2cd3f"/>
<rect x="442.76" y="370.00" width="18.60" height="1.30" fill="#173a25"/>
<text x="452.06" y="346.38" font-size="6.6" text-anchor="middle" fill="#111111" class="pc">34%</text>
<text x="452.06" y="305.27" font-size="6.6" text-anchor="middle" fill="#111111" class="pc">18%</text>
<text x="452.06" y="265.18" font-size="6.6" text-anchor="middle" fill="#111111" class="pc">33%</text>
<text x="452.06" y="227.69" font-size="6.6" text-anchor="middle" fill="#111111" class="pc">14%</text>
<text x="0" y="0" font-size="6.5" text-anchor="middle" transform="translate(452.06 379.00) scale(1 1.08)" fill="#111111" class="ct">7SF5</text>
<rect x="480.28" y="356.77" width="18.60" height="14.53" fill="#2b6b45"/>
<rect x="480.28" y="312.75" width="18.60" height="44.02" fill="#7a9a44"/>
<rect x="480.28" y="219.69" width="18.60" height="93.06" fill="#c3c340"/>
<rect x="480.28" y="213.40" width="18.60" height="6.29" fill="#f2cd3f"/>
<rect x="480.28" y="370.00" width="18.60" height="1.30" fill="#173a25"/>
<text x="489.58" y="366.18" font-size="6.6" text-anchor="middle" fill="#111111" class="pc">9%</text>
<text x="489.58" y="337.26" font-size="6.6" text-anchor="middle" fill="#111111" class="pc">28%</text>
<text x="489.58" y="268.72" font-size="6.6" text-anchor="middle" fill="#111111" class="pc">59%</text>
<text x="489.58" y="219.04" font-size="6.6" text-anchor="middle" fill="#111111" class="pc">4%</text>
<text x="0" y="0" font-size="6.5" text-anchor="middle" transform="translate(489.58 379.00) scale(1 1.08)" fill="#111111" class="ct">11SF1</text>
<rect x="517.80" y="356.77" width="18.60" height="14.53" fill="#2b6b45"/>
<rect x="517.80" y="301.75" width="18.60" height="55.02" fill="#7a9a44"/>
<rect x="517.80" y="219.69" width="18.60" height="82.06" fill="#c3c340"/>
<rect x="517.80" y="213.40" width="18.60" height="6.29" fill="#f2cd3f"/>
<rect x="517.80" y="370.00" width="18.60" height="1.30" fill="#173a25"/>
<text x="527.10" y="366.18" font-size="6.6" text-anchor="middle" fill="#111111" class="pc">9%</text>
<text x="527.10" y="331.76" font-size="6.6" text-anchor="middle" fill="#111111" class="pc">35%</text>
<text x="527.10" y="263.22" font-size="6.6" text-anchor="middle" fill="#111111" class="pc">53%</text>
<text x="527.10" y="219.04" font-size="6.6" text-anchor="middle" fill="#111111" class="pc">4%</text>
<text x="0" y="0" font-size="6.5" text-anchor="middle" transform="translate(527.10 379.00) scale(1 1.08)" fill="#111111" class="ct">11SF5</text>
<line x1="320.50" y1="370.60" x2="323.10" y2="370.60" stroke="#444" stroke-width="1.1"/>
<text x="0" y="0" font-size="5.6" text-anchor="end" transform="translate(317.30 372.60) scale(1 1.25)" fill="#111111" class="tk">0</text>
<line x1="320.50" y1="354.88" x2="322.10" y2="354.88" stroke="#444" stroke-width="1.0"/>
<line x1="320.50" y1="339.16" x2="323.10" y2="339.16" stroke="#444" stroke-width="1.1"/>
<text x="0" y="0" font-size="5.6" text-anchor="end" transform="translate(317.30 341.16) scale(1 1.25)" fill="#111111" class="tk">20</text>
<line x1="320.50" y1="323.44" x2="322.10" y2="323.44" stroke="#444" stroke-width="1.0"/>
<line x1="320.50" y1="307.72" x2="323.10" y2="307.72" stroke="#444" stroke-width="1.1"/>
<text x="0" y="0" font-size="5.6" text-anchor="end" transform="translate(317.30 309.72) scale(1 1.25)" fill="#111111" class="tk">40</text>
<line x1="320.50" y1="292.00" x2="322.10" y2="292.00" stroke="#444" stroke-width="1.0"/>
<line x1="320.50" y1="276.28" x2="323.10" y2="276.28" stroke="#444" stroke-width="1.1"/>
<text x="0" y="0" font-size="5.6" text-anchor="end" transform="translate(317.30 278.28) scale(1 1.25)" fill="#111111" class="tk">60</text>
<line x1="320.50" y1="260.56" x2="322.10" y2="260.56" stroke="#444" stroke-width="1.0"/>
<line x1="320.50" y1="244.84" x2="323.10" y2="244.84" stroke="#444" stroke-width="1.1"/>
<text x="0" y="0" font-size="5.6" text-anchor="end" transform="translate(317.30 246.84) scale(1 1.25)" fill="#111111" class="tk">80</text>
<line x1="320.50" y1="229.12" x2="322.10" y2="229.12" stroke="#444" stroke-width="1.0"/>
<line x1="320.50" y1="213.40" x2="323.10" y2="213.40" stroke="#444" stroke-width="1.1"/>
<text x="0" y="0" font-size="5.6" text-anchor="end" transform="translate(317.30 215.40) scale(1 1.25)" fill="#111111" class="tk">100</text>
<line x1="358.26" y1="370.60" x2="358.26" y2="368.80" stroke="#444" stroke-width="1.0"/>
<line x1="395.78" y1="370.60" x2="395.78" y2="368.80" stroke="#444" stroke-width="1.0"/>
<line x1="433.30" y1="370.60" x2="433.30" y2="368.80" stroke="#444" stroke-width="1.0"/>
<line x1="470.82" y1="370.60" x2="470.82" y2="368.80" stroke="#444" stroke-width="1.0"/>
<line x1="508.34" y1="370.60" x2="508.34" y2="368.80" stroke="#444" stroke-width="1.0"/>
<line x1="545.86" y1="370.60" x2="545.86" y2="368.80" stroke="#444" stroke-width="1.0"/>
<text x="432.70" y="391.60" font-size="8" text-anchor="middle" fill="#111111">Protein Sample</text>
<text x="304.40" y="294.50" font-size="7.6" text-anchor="middle" transform="rotate(-90 304.40 294.50)" fill="#111111">The proportion of each force(%)</text>
<rect x="339.90" y="190.90" width="18.00" height="8.90" fill="#2b6b45"/>
<text x="360.30" y="197.90" font-size="8" text-anchor="start" fill="#111111">Ionic bonds</text>
<rect x="447.20" y="190.90" width="18.00" height="8.90" fill="#7a9a44"/>
<text x="467.60" y="197.90" font-size="8" text-anchor="start" fill="#111111">Hydrogen bonds</text>
<rect x="339.90" y="201.00" width="18.00" height="8.90" fill="#c3c340"/>
<text x="360.30" y="208.00" font-size="8" text-anchor="start" fill="#111111">Hydrophobic interactions</text>
<rect x="447.20" y="201.20" width="18.00" height="8.90" fill="#f2cd3f"/>
<text x="467.60" y="208.20" font-size="8" text-anchor="start" fill="#111111">Disulfide bonds</text>
</svg>
</body></html>
